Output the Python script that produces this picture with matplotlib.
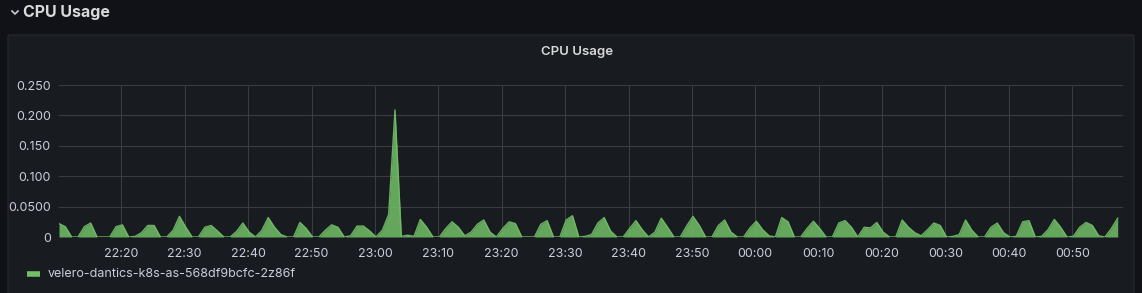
import pandas as pd
import matplotlib
matplotlib.use("Agg")
import matplotlib.pyplot as plt
import matplotlib.dates as mdates
from matplotlib.patches import FancyBboxPatch
from matplotlib.lines import Line2D

# CPU usage, one sample per minute from 22:10 to 00:57
start_time = "2021-06-01 22:10:10"
cpu_values = [
    0.022, 0.017, 0.0, 0.0, 0.017, 0.023, 0.0, 0.0, 0.0, 0.017,
    0.020, 0.0, 0.001, 0.007, 0.019, 0.019, 0.0, 0.0, 0.011, 0.034,
    0.016, 0.0, 0.0, 0.016, 0.019, 0.010, 0.0, 0.0, 0.009, 0.023,
    0.008, 0.0, 0.011, 0.032, 0.016, 0.004, 0.0, 0.0, 0.024, 0.014,
    0.0, 0.0, 0.011, 0.020, 0.016, 0.0, 0.002, 0.018, 0.018, 0.010,
    0.0, 0.011, 0.037, 0.209, 0.001, 0.003, 0.001, 0.029, 0.016, 0.0,
    0.0, 0.014, 0.025, 0.016, 0.002, 0.008, 0.021, 0.028, 0.008, 0.0,
    0.014, 0.025, 0.022, 0.0, 0.0, 0.0, 0.021, 0.027, 0.0, 0.0,
    0.028, 0.035, 0.0, 0.001, 0.004, 0.023, 0.032, 0.010, 0.0, 0.0,
    0.014, 0.027, 0.012, 0.0, 0.008, 0.031, 0.016, 0.0, 0.0, 0.018,
    0.034, 0.019, 0.0, 0.0, 0.019, 0.028, 0.008, 0.0, 0.0, 0.015,
    0.026, 0.012, 0.002, 0.0, 0.032, 0.025, 0.0, 0.0, 0.014, 0.026,
    0.014, 0.0, 0.0, 0.023, 0.027, 0.016, 0.0, 0.016, 0.015, 0.024,
    0.008, 0.0, 0.0, 0.028, 0.016, 0.007, 0.002, 0.012, 0.023, 0.019,
    0.0, 0.001, 0.004, 0.028, 0.011, 0.0, 0.0, 0.016, 0.023, 0.007,
    0.0, 0.001, 0.025, 0.027, 0.0, 0.001, 0.012, 0.029, 0.016, 0.0,
    0.001, 0.016, 0.024, 0.019, 0.002, 0.0, 0.014, 0.031,
]
y_ticks = [0, 0.05, 0.10, 0.15, 0.20, 0.25]
y_tick_labels = ["0", "0.0500", "0.100", "0.150", "0.200", "0.250"]
series_name = "velero-dantics-k8s-as-568df9bcfc-2z86f"
section_title = "CPU Usage"
panel_title = "CPU Usage"

times = pd.date_range(start_time, periods=len(cpu_values), freq="1min")

page_bg = "#111217"
panel_bg = "#181b1f"
text_col = "#ccccdc"
grid_col = "#3b3c40"
green = "#73bf69"

plt.rcParams["font.family"] = ["Inter", "DejaVu Sans"]

W, H = 1142, 293
fig = plt.figure(figsize=(W / 100, H / 100), dpi=100, facecolor=page_bg)

# panel box (behind the axes)
panel = FancyBboxPatch((8 / W, -10 / H), (1134 - 8) / W, (293 - 35 + 10) / H,
                       boxstyle="round,pad=0,rounding_size=0.003",
                       transform=fig.transFigure, facecolor=panel_bg,
                       edgecolor="#24262b", linewidth=1, zorder=-5)
fig.patches.append(panel)

# section header with chevron
fig.lines.append(Line2D([12 / W, 15 / W, 18 / W], [1 - 11 / H, 1 - 14 / H, 1 - 11 / H],
                        transform=fig.transFigure, color=text_col, linewidth=1.2))
fig.text(23 / W, 1 - 12.5 / H, section_title, color="#d8d9da", fontsize=11.5,
         fontweight="bold", va="center", ha="left")

fig.text(577 / W, 1 - 52 / H, panel_title, color="#d8d9da", fontsize=9.5,
         fontweight="semibold", va="center", ha="center")

ax = fig.add_axes([59 / W, (H - 237) / H, (1123 - 59) / W, (237 - 85) / H])
ax.set_facecolor("none")
ax.fill_between(times, cpu_values, 0, color=green, alpha=0.85, linewidth=0)
ax.plot(times, cpu_values, color=green, alpha=0.9, linewidth=1)

ax.set_ylim(0, 0.25)
ax.set_xlim(pd.Timestamp(start_time), pd.Timestamp("2021-06-02 00:58:00"))
ax.set_yticks(y_ticks)
ax.set_yticklabels(y_tick_labels)
ax.xaxis.set_major_locator(mdates.MinuteLocator(byminute=range(0, 60, 10)))
ax.xaxis.set_major_formatter(mdates.DateFormatter("%H:%M"))

ax.grid(True, color=grid_col, linewidth=0.8)
ax.set_axisbelow(True)
for s in ax.spines.values():
    s.set_visible(False)
ax.tick_params(axis="both", length=0, colors=text_col, labelsize=9)
ax.tick_params(axis="y", pad=6)
ax.tick_params(axis="x", pad=8)

# legend
fig.lines.append(Line2D([27 / W, 40 / W], [1 - 274 / H, 1 - 274 / H],
                        transform=fig.transFigure, color=green, linewidth=4,
                        solid_capstyle="butt"))
fig.text(48 / W, 1 - 274 / H, series_name, color=text_col, fontsize=9,
         va="center", ha="left")

fig.savefig("out.png", dpi=100, facecolor=page_bg)
